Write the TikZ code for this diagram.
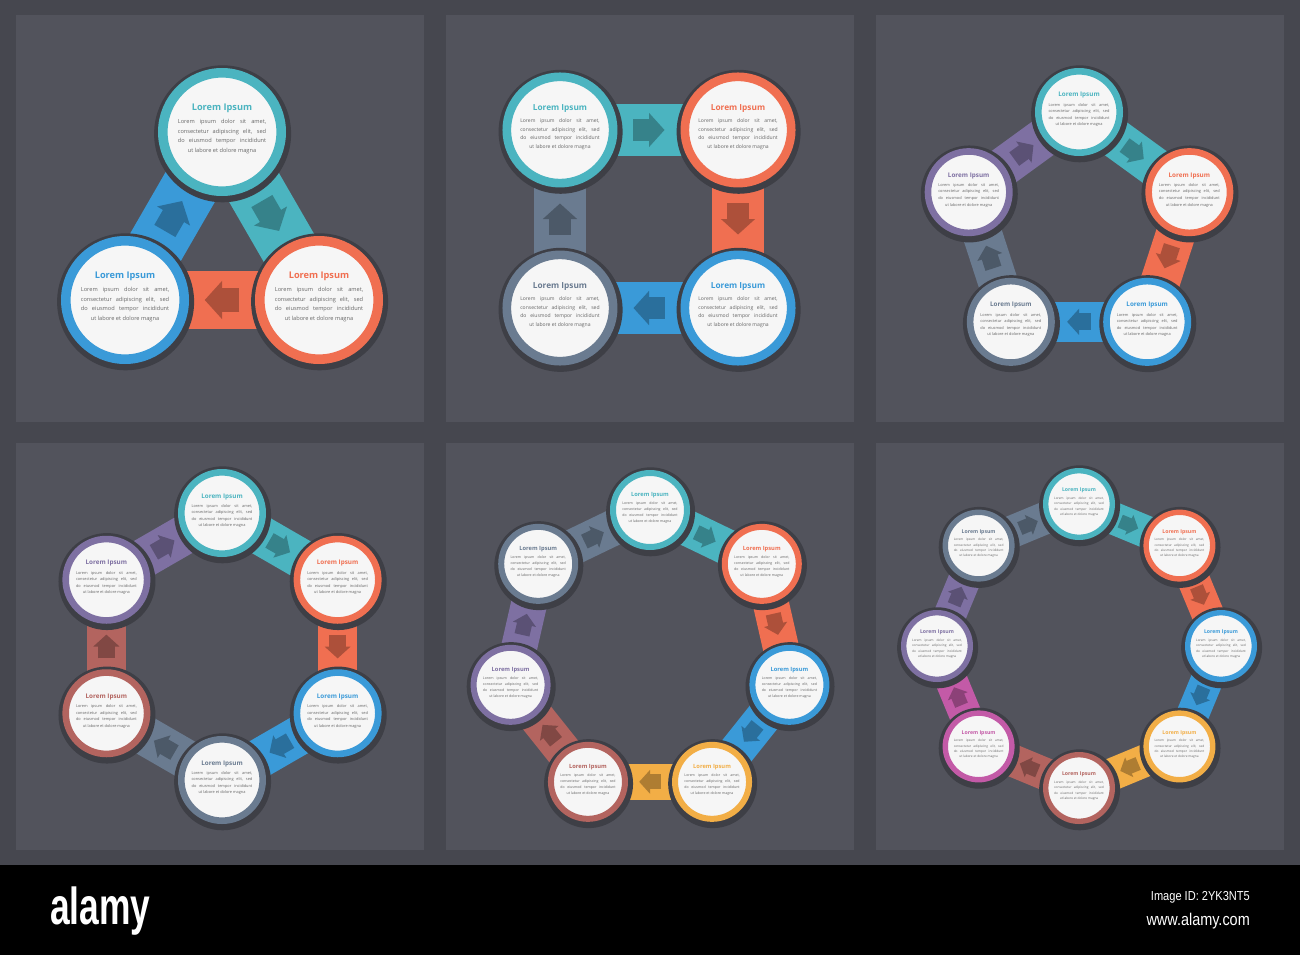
\documentclass[tikz,border=0pt]{standalone}
\usepackage{fontspec}
\setmainfont{Open Sans}
\newfontfamily\logofont{Liberation Sans}
\usetikzlibrary{calc,arrows.meta}
\pgfdeclarelayer{backdrop}
\pgfdeclarelayer{bands}
\pgfsetlayers{backdrop,bands,main}
\definecolor{outergray}{HTML}{46474F}
\definecolor{panelgray}{HTML}{52535C}
\definecolor{shadowgray}{HTML}{3E3F46}
\definecolor{discwhite}{HTML}{F6F6F6}
\definecolor{bodygray}{HTML}{676767}
\definecolor{cteal}{HTML}{4BB4C0}
\definecolor{corange}{HTML}{F06F51}
\definecolor{cblue}{HTML}{3A9AD8}
\definecolor{cslate}{HTML}{6A7B90}
\definecolor{cpurple}{HTML}{7E70A2}
\definecolor{cred}{HTML}{B3645F}
\definecolor{cyellow}{HTML}{F2AE46}
\definecolor{cpink}{HTML}{C35AA7}
\newcommand\loremlines[1]{%
  \makebox[#1][s]{Lorem ipsum dolor sit amet,}\\
  \makebox[#1][s]{consectetur adipiscing elit, sed}\\
  \makebox[#1][s]{do eiusmod tempor incididunt}\\
  ut labore et dolore magna}
\begin{document}
\begin{tikzpicture}
[x=1pt,y=-1pt,
 circledecorate/.style={shape=circle,inner sep=0pt,fill=discwhite,draw=#1},
 banddecorate/.style={-,draw=#1},
 arrowdecorate/.style={draw=#1!72!black,line cap=butt},
 titledecorate/.style={text=#1,inner sep=0pt},
 bodydecorate/.style={text=bodygray,inner sep=0pt,align=center},
 logodecorate/.style={text=white,inner sep=0pt}]
\useasboundingbox (0,0) rectangle (1300,955);
%% background and panels
\begin{pgfonlayer}{backdrop}
\fill[outergray] (0,0) rectangle (1300,865);
\fill[black] (0,865) rectangle (1300,955);
\foreach \px/\py in {16/15, 446/15, 876/15, 16/443, 446/443, 876/443} {
  \fill[panelgray] (\px,\py) rectangle ++(408,407);
}
\end{pgfonlayer}
%% cycles: panel/centre/radius/circle radius/start angle/steps/colours
\foreach \p/\cx/\cy/\R/\rc/\start/\n/\cols in {
  1/222/244/112/64/0/3/{cteal,corange,cblue},
  2/649/219/125.9/57.5/-45/4/{cteal,corange,cblue,cslate},
  3/1079/228/116/44/0/5/{cteal,corange,cblue,cslate,cpurple},
  4/222/646.5/133.5/44/0/6/{cteal,corange,cblue,cslate,cred,cpurple},
  5/650/653/143/40/0/7/{cteal,corange,cblue,cyellow,cred,cpurple,cslate},
  6/1079/646/142/36/0/8/{cteal,corange,cblue,cyellow,cred,cpink,cpurple,cslate}} {
  \pgfmathsetmacro\ringw{0.15*\rc}
  \pgfmathsetmacro\dia{1.85*\rc}
  \pgfmathsetmacro\tsz{0.144*\rc}
  \pgfmathsetmacro\bsz{0.088*\rc}
  \pgfmathsetmacro\bsk{0.148*\rc}
  \pgfmathsetmacro\twd{1.38*\rc}
  \pgfmathsetmacro\tdy{0.375*\rc}
  \pgfmathsetmacro\bdy{0.07*\rc}
  \pgfmathsetmacro\bwd{0.9*\rc}
  \pgfmathsetmacro\ahalf{0.27*\rc}
  \pgfmathsetmacro\awid{0.58*\rc}
  \pgfmathsetmacro\ahead{0.27*\rc}
  \pgfmathsetmacro\ashaft{0.38*\rc}
  %% nodes or circles
  \foreach \col [count=\i from 0] in \cols {
    \pgfmathsetmacro\ang{\start+\i*360/\n}
    \pgfmathsetmacro\x{\cx+\R*sin(\ang)}
    \pgfmathsetmacro\y{\cy-\R*cos(\ang)}
    \fill[shadowgray] (\x+0.6,\y+1.8) circle[radius=\rc+4.5];
    \node (p\p n\i) at (\x,\y) [circledecorate=\col,line width=\ringw pt,minimum size=\dia pt] {};
    \node (p\p t\i) at ([yshift=\tdy pt]p\p n\i) [titledecorate=\col,font=\bfseries\fontsize{\tsz}{\tsz}\selectfont] {Lorem Ipsum};
    \node (p\p b\i) at ([yshift=-\bdy pt]p\p n\i) [bodydecorate,font=\fontsize{\bsz}{\bsk}\selectfont] {\loremlines{\twd pt}};
  }
  %% bands or connectors
  \begin{pgfonlayer}{bands}
  \foreach \col [count=\i from 0] in \cols {
    \pgfmathtruncatemacro\j{mod(\i+1,\n)}
    \coordinate (p\p m\i) at ($(p\p n\i.center)!.5!(p\p n\j.center)$);
    \draw[banddecorate=\col,line width=\bwd pt] (p\p n\i.center) -- (p\p n\j.center);
    \draw[arrowdecorate=\col,line width=\ashaft pt,-{Triangle[width=\awid pt,length=\ahead pt]}]
      ($(p\p m\i)!\ahalf pt!(p\p n\i.center)$) -- ($(p\p m\i)!\ahalf pt!(p\p n\j.center)$);
  }
  \end{pgfonlayer}
}
%% footer
\node (logo) at (50,911) [logodecorate,anchor=west,font=\logofont\bfseries\fontsize{52}{52}\selectfont] {\scalebox{0.68}[1]{alamy}};
\node (imageid) at (1250,897) [logodecorate,anchor=east,font=\logofont\fontsize{13}{13}\selectfont] {\scalebox{0.85}[1]{Image ID: 2YK3NT5}};
\node (site) at (1250,921) [logodecorate,anchor=east,font=\logofont\fontsize{17}{17}\selectfont] {\scalebox{0.85}[1]{www.alamy.com}};
\end{tikzpicture}
\end{document}
